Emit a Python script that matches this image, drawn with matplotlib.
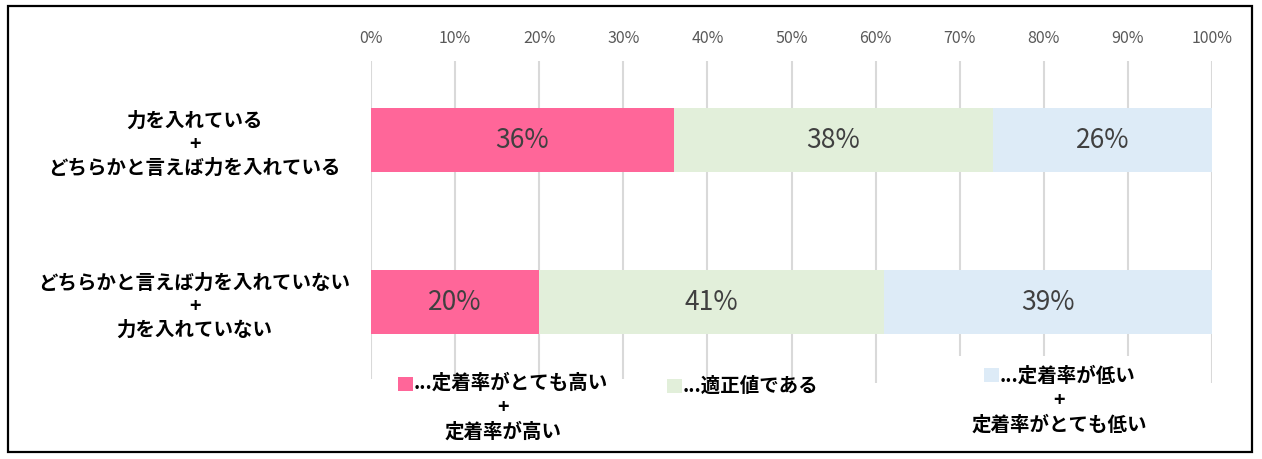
import matplotlib
matplotlib.use("Agg")
import matplotlib.pyplot as plt
from matplotlib.patches import Rectangle

plt.rcParams['font.family'] = ['Noto Sans CJK JP', 'DejaVu Sans']

# --- data -----------------------------------------------------------------
categories = [
    "力を入れている\n+\nどちらかと言えば力を入れている",
    "どちらかと言えば力を入れていない\n+\n力を入れていない",
]
series_names = [
    "...定着率がとても高い\n+\n定着率が高い",
    "...適正値である",
    "...定着率が低い\n+\n定着率がとても低い",
]
high = [36, 20]
ok = [38, 41]
low = [26, 39]
colors = ["#FF6699", "#E2EFDA", "#DDEBF7"]
ticks = [0, 10, 20, 30, 40, 50, 60, 70, 80, 90, 100]

W, H = 1262, 459
fig = plt.figure(figsize=(W / 100, H / 100), dpi=100)


def fx(px):
    return px / W


def fy(py):
    return 1 - py / H


# plot area: 0% at x=371, 100% at x=1212, grid from y=61 to y=383
ax = fig.add_axes([fx(371), fy(383), fx(1212) - fx(371), (383 - 61) / H])

ypos = [0, 1]
left = [0, 0]
for vals, col in zip([high, ok, low], colors):
    bars = ax.barh(ypos, vals, left=left, height=0.395, color=col, zorder=2)
    for b, v in zip(bars, vals):
        ax.text(b.get_x() + b.get_width() / 2, b.get_y() + b.get_height() / 2,
                f"{v}%", ha="center", va="center", fontsize=19,
                color="#404040", zorder=3)
    left = [a + b for a, b in zip(left, vals)]

ax.set_xlim(0, 100)
ax.set_ylim(1.5, -0.488)
ax.set_xticks(ticks)
ax.set_xticklabels([f"{t}%" for t in ticks], fontsize=11.5, color="#595959")
ax.xaxis.tick_top()
ax.tick_params(axis="x", length=0, pad=10)
ax.grid(axis="x", color="#D9D9D9", linewidth=1.5, zorder=0)
ax.set_axisbelow(True)

ax.set_yticks(ypos)
ax.set_yticklabels(categories, fontsize=14, fontweight="bold",
                   ha="center", multialignment="center", linespacing=1.29)
ax.tick_params(axis="y", length=0, pad=127)
for s in ax.spines.values():
    s.set_visible(False)

# --- legend (manually placed, white boxes cover grid lines) ----------------
legend_items = [
    # (white box: left, top, right), block centre x, first line y, square left, square top
    ((365, 379, 660), 503, 383, 398, 377),
    (None, 0, 386, 667, 379),
    ((900, 356, 1195), 1059, 376, 984, 368),
]
for (box, cx, ly, sqx, sqy), name, col in zip(legend_items, series_names, colors):
    if box is not None:
        bx0, by0, bx1 = box
        fig.patches.append(Rectangle((fx(bx0), fy(459)), fx(bx1) - fx(bx0), (459 - by0) / H,
                                     transform=fig.transFigure, facecolor="white",
                                     edgecolor="none", zorder=5))
    lines = name.split("\n")
    # first line carries the colour square
    fig.patches.append(Rectangle((fx(sqx), fy(sqy + 14)), fx(15), 14 / H,
                                 transform=fig.transFigure, facecolor=col,
                                 edgecolor="none", zorder=6))
    fig.text(fx(sqx + 16), fy(ly), lines[0], ha="left", va="center",
             fontsize=14, fontweight="bold", zorder=7)
    for i, ln in enumerate(lines[1:]):
        fig.text(fx(cx), fy(ly + 24.5 * (i + 1)), ln, ha="center", va="center",
                 fontsize=14, fontweight="bold", zorder=7)

# outer border
fig.patches.append(Rectangle((fx(8), fy(452)), fx(1252) - fx(8), (452 - 6) / H,
                             transform=fig.transFigure, facecolor="none",
                             edgecolor="black", linewidth=1.6, zorder=10))

fig.savefig("out.png", dpi=100)
